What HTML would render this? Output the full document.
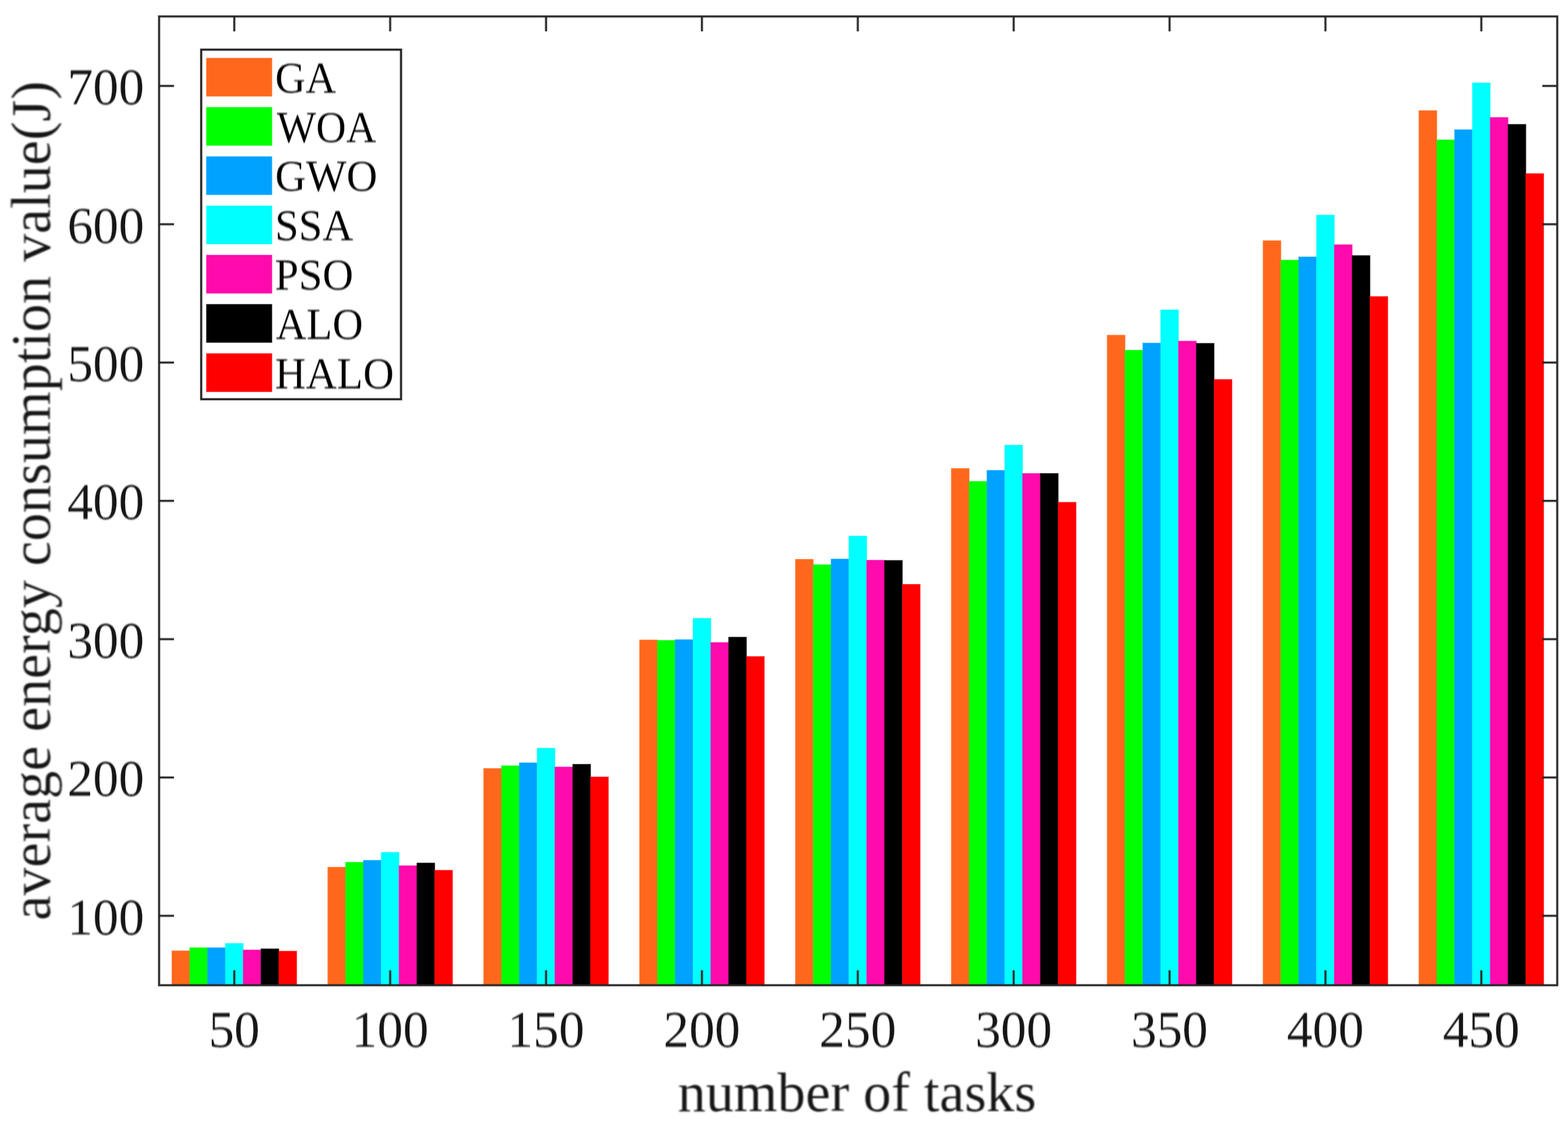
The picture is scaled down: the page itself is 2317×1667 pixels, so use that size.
<!DOCTYPE html>
<html lang="en"><head><meta charset="utf-8">
<title>average energy consumption value vs number of tasks</title>
<style>
html,body{margin:0;padding:0;background:#fff;}
body{width:2317px;height:1667px;overflow:hidden;}
svg{display:block;}
text{filter:blur(0.8px);font-family:"Liberation Serif","Times New Roman",Times,serif;stroke:#ffffff;stroke-width:0.15px;stroke-linejoin:round;}
.tk{font-size:76.5px;fill:#161616;}
.lb{font-size:82.3px;fill:#161616;}
.lg{font-size:65.0px;fill:#000;}
</style></head><body>
<svg width="2317" height="1667" viewBox="0 0 2317 1667">
<rect x="0" y="0" width="2317" height="1667" fill="#ffffff"/>
<g id="bars" stroke-width="1.2" stroke-opacity="0.5">
<rect x="254.06" y="1405.20" width="26.32" height="50.80" fill="#FF681C" stroke="#FF681C"/>
<rect x="280.39" y="1400.60" width="26.32" height="55.40" fill="#00FF00" stroke="#00FF00"/>
<rect x="306.71" y="1400.60" width="26.32" height="55.40" fill="#00A2FF" stroke="#00A2FF"/>
<rect x="333.04" y="1394.20" width="26.32" height="61.80" fill="#00FFFF" stroke="#00FFFF"/>
<rect x="359.36" y="1403.90" width="26.32" height="52.10" fill="#FF0AAC" stroke="#FF0AAC"/>
<rect x="385.69" y="1402.20" width="26.32" height="53.80" fill="#000000" stroke="#000000"/>
<rect x="412.01" y="1405.70" width="26.32" height="50.30" fill="#FF0000" stroke="#FF0000"/>
<rect x="484.40" y="1281.60" width="26.32" height="174.40" fill="#FF681C" stroke="#FF681C"/>
<rect x="510.73" y="1274.30" width="26.32" height="181.70" fill="#00FF00" stroke="#00FF00"/>
<rect x="537.05" y="1271.40" width="26.32" height="184.60" fill="#00A2FF" stroke="#00A2FF"/>
<rect x="563.38" y="1259.70" width="26.32" height="196.30" fill="#00FFFF" stroke="#00FFFF"/>
<rect x="589.70" y="1279.40" width="26.32" height="176.60" fill="#FF0AAC" stroke="#FF0AAC"/>
<rect x="616.03" y="1275.40" width="26.32" height="180.60" fill="#000000" stroke="#000000"/>
<rect x="642.35" y="1286.10" width="26.32" height="169.90" fill="#FF0000" stroke="#FF0000"/>
<rect x="714.74" y="1135.70" width="26.32" height="320.30" fill="#FF681C" stroke="#FF681C"/>
<rect x="741.07" y="1131.70" width="26.32" height="324.30" fill="#00FF00" stroke="#00FF00"/>
<rect x="767.39" y="1127.30" width="26.32" height="328.70" fill="#00A2FF" stroke="#00A2FF"/>
<rect x="793.72" y="1105.70" width="26.32" height="350.30" fill="#00FFFF" stroke="#00FFFF"/>
<rect x="820.04" y="1133.50" width="26.32" height="322.50" fill="#FF0AAC" stroke="#FF0AAC"/>
<rect x="846.37" y="1129.50" width="26.32" height="326.50" fill="#000000" stroke="#000000"/>
<rect x="872.69" y="1148.20" width="26.32" height="307.80" fill="#FF0000" stroke="#FF0000"/>
<rect x="945.08" y="945.80" width="26.32" height="510.20" fill="#FF681C" stroke="#FF681C"/>
<rect x="971.41" y="946.40" width="26.32" height="509.60" fill="#00FF00" stroke="#00FF00"/>
<rect x="997.73" y="945.30" width="26.32" height="510.70" fill="#00A2FF" stroke="#00A2FF"/>
<rect x="1024.06" y="913.80" width="26.32" height="542.20" fill="#00FFFF" stroke="#00FFFF"/>
<rect x="1050.38" y="949.50" width="26.32" height="506.50" fill="#FF0AAC" stroke="#FF0AAC"/>
<rect x="1076.71" y="941.60" width="26.32" height="514.40" fill="#000000" stroke="#000000"/>
<rect x="1103.03" y="970.20" width="26.32" height="485.80" fill="#FF0000" stroke="#FF0000"/>
<rect x="1175.42" y="826.60" width="26.32" height="629.40" fill="#FF681C" stroke="#FF681C"/>
<rect x="1201.75" y="834.50" width="26.32" height="621.50" fill="#00FF00" stroke="#00FF00"/>
<rect x="1228.07" y="826.10" width="26.32" height="629.90" fill="#00A2FF" stroke="#00A2FF"/>
<rect x="1254.40" y="792.20" width="26.32" height="663.80" fill="#00FFFF" stroke="#00FFFF"/>
<rect x="1280.72" y="827.90" width="26.32" height="628.10" fill="#FF0AAC" stroke="#FF0AAC"/>
<rect x="1307.05" y="828.20" width="26.32" height="627.80" fill="#000000" stroke="#000000"/>
<rect x="1333.37" y="863.60" width="26.32" height="592.40" fill="#FF0000" stroke="#FF0000"/>
<rect x="1405.76" y="692.30" width="26.32" height="763.70" fill="#FF681C" stroke="#FF681C"/>
<rect x="1432.09" y="711.40" width="26.32" height="744.60" fill="#00FF00" stroke="#00FF00"/>
<rect x="1458.41" y="695.10" width="26.32" height="760.90" fill="#00A2FF" stroke="#00A2FF"/>
<rect x="1484.74" y="657.90" width="26.32" height="798.10" fill="#00FFFF" stroke="#00FFFF"/>
<rect x="1511.06" y="699.70" width="26.32" height="756.30" fill="#FF0AAC" stroke="#FF0AAC"/>
<rect x="1537.39" y="699.70" width="26.32" height="756.30" fill="#000000" stroke="#000000"/>
<rect x="1563.71" y="742.30" width="26.32" height="713.70" fill="#FF0000" stroke="#FF0000"/>
<rect x="1636.10" y="495.30" width="26.32" height="960.70" fill="#FF681C" stroke="#FF681C"/>
<rect x="1662.43" y="517.60" width="26.32" height="938.40" fill="#00FF00" stroke="#00FF00"/>
<rect x="1688.75" y="507.00" width="26.32" height="949.00" fill="#00A2FF" stroke="#00A2FF"/>
<rect x="1715.08" y="457.90" width="26.32" height="998.10" fill="#00FFFF" stroke="#00FFFF"/>
<rect x="1741.40" y="504.10" width="26.32" height="951.90" fill="#FF0AAC" stroke="#FF0AAC"/>
<rect x="1767.73" y="507.40" width="26.32" height="948.60" fill="#000000" stroke="#000000"/>
<rect x="1794.05" y="560.80" width="26.32" height="895.20" fill="#FF0000" stroke="#FF0000"/>
<rect x="1866.44" y="355.70" width="26.32" height="1100.30" fill="#FF681C" stroke="#FF681C"/>
<rect x="1892.77" y="384.40" width="26.32" height="1071.60" fill="#00FF00" stroke="#00FF00"/>
<rect x="1919.09" y="379.70" width="26.32" height="1076.30" fill="#00A2FF" stroke="#00A2FF"/>
<rect x="1945.42" y="317.90" width="26.32" height="1138.10" fill="#00FFFF" stroke="#00FFFF"/>
<rect x="1971.74" y="361.70" width="26.32" height="1094.30" fill="#FF0AAC" stroke="#FF0AAC"/>
<rect x="1998.07" y="377.70" width="26.32" height="1078.30" fill="#000000" stroke="#000000"/>
<rect x="2024.39" y="438.20" width="26.32" height="1017.80" fill="#FF0000" stroke="#FF0000"/>
<rect x="2096.78" y="163.50" width="26.32" height="1292.50" fill="#FF681C" stroke="#FF681C"/>
<rect x="2123.11" y="206.70" width="26.32" height="1249.30" fill="#00FF00" stroke="#00FF00"/>
<rect x="2149.43" y="191.70" width="26.32" height="1264.30" fill="#00A2FF" stroke="#00A2FF"/>
<rect x="2175.76" y="122.50" width="26.32" height="1333.50" fill="#00FFFF" stroke="#00FFFF"/>
<rect x="2202.08" y="173.60" width="26.32" height="1282.40" fill="#FF0AAC" stroke="#FF0AAC"/>
<rect x="2228.41" y="183.80" width="26.32" height="1272.20" fill="#000000" stroke="#000000"/>
<rect x="2254.73" y="256.60" width="26.32" height="1199.40" fill="#FF0000" stroke="#FF0000"/>
</g>
<g id="axes-soft" stroke="#262626" stroke-width="4.2" stroke-opacity="0.35" fill="none">
<rect x="235.10" y="24.30" width="2066.00" height="1431.70"/>
<line x1="346.20" y1="1456.00" x2="346.20" y2="1434.00"/>
<line x1="346.20" y1="24.30" x2="346.20" y2="46.30"/>
<line x1="576.54" y1="1456.00" x2="576.54" y2="1434.00"/>
<line x1="576.54" y1="24.30" x2="576.54" y2="46.30"/>
<line x1="806.88" y1="1456.00" x2="806.88" y2="1434.00"/>
<line x1="806.88" y1="24.30" x2="806.88" y2="46.30"/>
<line x1="1037.22" y1="1456.00" x2="1037.22" y2="1434.00"/>
<line x1="1037.22" y1="24.30" x2="1037.22" y2="46.30"/>
<line x1="1267.56" y1="1456.00" x2="1267.56" y2="1434.00"/>
<line x1="1267.56" y1="24.30" x2="1267.56" y2="46.30"/>
<line x1="1497.90" y1="1456.00" x2="1497.90" y2="1434.00"/>
<line x1="1497.90" y1="24.30" x2="1497.90" y2="46.30"/>
<line x1="1728.24" y1="1456.00" x2="1728.24" y2="1434.00"/>
<line x1="1728.24" y1="24.30" x2="1728.24" y2="46.30"/>
<line x1="1958.58" y1="1456.00" x2="1958.58" y2="1434.00"/>
<line x1="1958.58" y1="24.30" x2="1958.58" y2="46.30"/>
<line x1="2188.92" y1="1456.00" x2="2188.92" y2="1434.00"/>
<line x1="2188.92" y1="24.30" x2="2188.92" y2="46.30"/>
<line x1="235.10" y1="1353.40" x2="257.10" y2="1353.40"/>
<line x1="2301.10" y1="1353.40" x2="2279.10" y2="1353.40"/>
<line x1="235.10" y1="1149.00" x2="257.10" y2="1149.00"/>
<line x1="2301.10" y1="1149.00" x2="2279.10" y2="1149.00"/>
<line x1="235.10" y1="944.60" x2="257.10" y2="944.60"/>
<line x1="2301.10" y1="944.60" x2="2279.10" y2="944.60"/>
<line x1="235.10" y1="740.20" x2="257.10" y2="740.20"/>
<line x1="2301.10" y1="740.20" x2="2279.10" y2="740.20"/>
<line x1="235.10" y1="535.80" x2="257.10" y2="535.80"/>
<line x1="2301.10" y1="535.80" x2="2279.10" y2="535.80"/>
<line x1="235.10" y1="331.40" x2="257.10" y2="331.40"/>
<line x1="2301.10" y1="331.40" x2="2279.10" y2="331.40"/>
<line x1="235.10" y1="127.00" x2="257.10" y2="127.00"/>
<line x1="2301.10" y1="127.00" x2="2279.10" y2="127.00"/>
</g>
<g id="axes" stroke="#262626" stroke-width="2.4" fill="none">
<rect x="235.10" y="24.30" width="2066.00" height="1431.70"/>
<line x1="346.20" y1="1456.00" x2="346.20" y2="1434.00"/>
<line x1="346.20" y1="24.30" x2="346.20" y2="46.30"/>
<line x1="576.54" y1="1456.00" x2="576.54" y2="1434.00"/>
<line x1="576.54" y1="24.30" x2="576.54" y2="46.30"/>
<line x1="806.88" y1="1456.00" x2="806.88" y2="1434.00"/>
<line x1="806.88" y1="24.30" x2="806.88" y2="46.30"/>
<line x1="1037.22" y1="1456.00" x2="1037.22" y2="1434.00"/>
<line x1="1037.22" y1="24.30" x2="1037.22" y2="46.30"/>
<line x1="1267.56" y1="1456.00" x2="1267.56" y2="1434.00"/>
<line x1="1267.56" y1="24.30" x2="1267.56" y2="46.30"/>
<line x1="1497.90" y1="1456.00" x2="1497.90" y2="1434.00"/>
<line x1="1497.90" y1="24.30" x2="1497.90" y2="46.30"/>
<line x1="1728.24" y1="1456.00" x2="1728.24" y2="1434.00"/>
<line x1="1728.24" y1="24.30" x2="1728.24" y2="46.30"/>
<line x1="1958.58" y1="1456.00" x2="1958.58" y2="1434.00"/>
<line x1="1958.58" y1="24.30" x2="1958.58" y2="46.30"/>
<line x1="2188.92" y1="1456.00" x2="2188.92" y2="1434.00"/>
<line x1="2188.92" y1="24.30" x2="2188.92" y2="46.30"/>
<line x1="235.10" y1="1353.40" x2="257.10" y2="1353.40"/>
<line x1="2301.10" y1="1353.40" x2="2279.10" y2="1353.40"/>
<line x1="235.10" y1="1149.00" x2="257.10" y2="1149.00"/>
<line x1="2301.10" y1="1149.00" x2="2279.10" y2="1149.00"/>
<line x1="235.10" y1="944.60" x2="257.10" y2="944.60"/>
<line x1="2301.10" y1="944.60" x2="2279.10" y2="944.60"/>
<line x1="235.10" y1="740.20" x2="257.10" y2="740.20"/>
<line x1="2301.10" y1="740.20" x2="2279.10" y2="740.20"/>
<line x1="235.10" y1="535.80" x2="257.10" y2="535.80"/>
<line x1="2301.10" y1="535.80" x2="2279.10" y2="535.80"/>
<line x1="235.10" y1="331.40" x2="257.10" y2="331.40"/>
<line x1="2301.10" y1="331.40" x2="2279.10" y2="331.40"/>
<line x1="235.10" y1="127.00" x2="257.10" y2="127.00"/>
<line x1="2301.10" y1="127.00" x2="2279.10" y2="127.00"/>
</g>
<g id="xticks" class="tk" text-anchor="middle">
<text transform="translate(346.10,1547.00) scale(0.992,1)">50</text>
<text transform="translate(576.44,1547.00) scale(0.992,1)">100</text>
<text transform="translate(806.78,1547.00) scale(0.992,1)">150</text>
<text transform="translate(1037.12,1547.00) scale(0.992,1)">200</text>
<text transform="translate(1267.46,1547.00) scale(0.992,1)">250</text>
<text transform="translate(1497.80,1547.00) scale(0.992,1)">300</text>
<text transform="translate(1728.14,1547.00) scale(0.992,1)">350</text>
<text transform="translate(1958.48,1547.00) scale(0.992,1)">400</text>
<text transform="translate(2188.82,1547.00) scale(0.992,1)">450</text>
</g>
<g id="yticks" class="tk" text-anchor="end">
<text transform="translate(213.20,1380.50) scale(0.992,1)">100</text>
<text transform="translate(213.20,1176.10) scale(0.992,1)">200</text>
<text transform="translate(213.20,971.70) scale(0.992,1)">300</text>
<text transform="translate(213.20,767.30) scale(0.992,1)">400</text>
<text transform="translate(213.20,562.90) scale(0.992,1)">500</text>
<text transform="translate(213.20,358.50) scale(0.992,1)">600</text>
<text transform="translate(213.20,154.10) scale(0.992,1)">700</text>
</g>
<text class="lb" text-anchor="middle" transform="translate(1266.30,1642.30) scale(1.008,1)">number of tasks</text>
<text class="lb" text-anchor="middle" transform="translate(73.60,740.00) rotate(-90) scale(1.0085,1)">average energy consumption value(J)</text>
<g id="legend">
<rect x="297.30" y="73.40" width="295.30" height="516.60" fill="#fff" stroke="#1a1a1a" stroke-width="4.2" stroke-opacity="0.35"/>
<rect x="297.30" y="73.40" width="295.30" height="516.60" fill="none" stroke="#1a1a1a" stroke-width="2.4"/>
<rect x="305.05" y="85.90" width="96.70" height="56.30" fill="#FF681C" stroke="#FF681C" stroke-width="1.2" stroke-opacity="0.5"/>
<text class="lg" transform="translate(406.60,136.90) scale(0.959,1)">GA</text>
<rect x="305.05" y="158.68" width="96.70" height="56.30" fill="#00FF00" stroke="#00FF00" stroke-width="1.2" stroke-opacity="0.5"/>
<text class="lg" transform="translate(408.90,209.68) scale(0.947,1)">WOA</text>
<rect x="305.05" y="231.46" width="96.70" height="56.30" fill="#00A2FF" stroke="#00A2FF" stroke-width="1.2" stroke-opacity="0.5"/>
<text class="lg" transform="translate(406.60,282.46) scale(0.974,1)">GWO</text>
<rect x="305.05" y="304.24" width="96.70" height="56.30" fill="#00FFFF" stroke="#00FFFF" stroke-width="1.2" stroke-opacity="0.5"/>
<text class="lg" transform="translate(406.20,355.24) scale(0.971,1)">SSA</text>
<rect x="305.05" y="377.02" width="96.70" height="56.30" fill="#FF0AAC" stroke="#FF0AAC" stroke-width="1.2" stroke-opacity="0.5"/>
<text class="lg" transform="translate(406.10,428.02) scale(0.974,1)">PSO</text>
<rect x="305.05" y="449.80" width="96.70" height="56.30" fill="#000000" stroke="#000000" stroke-width="1.2" stroke-opacity="0.5"/>
<text class="lg" transform="translate(407.50,500.80) scale(0.966,1)">ALO</text>
<rect x="305.05" y="522.58" width="96.70" height="56.30" fill="#FF0000" stroke="#FF0000" stroke-width="1.2" stroke-opacity="0.5"/>
<text class="lg" transform="translate(406.30,573.58) scale(0.974,1)">HALO</text>
</g>
</svg>
</body></html>
